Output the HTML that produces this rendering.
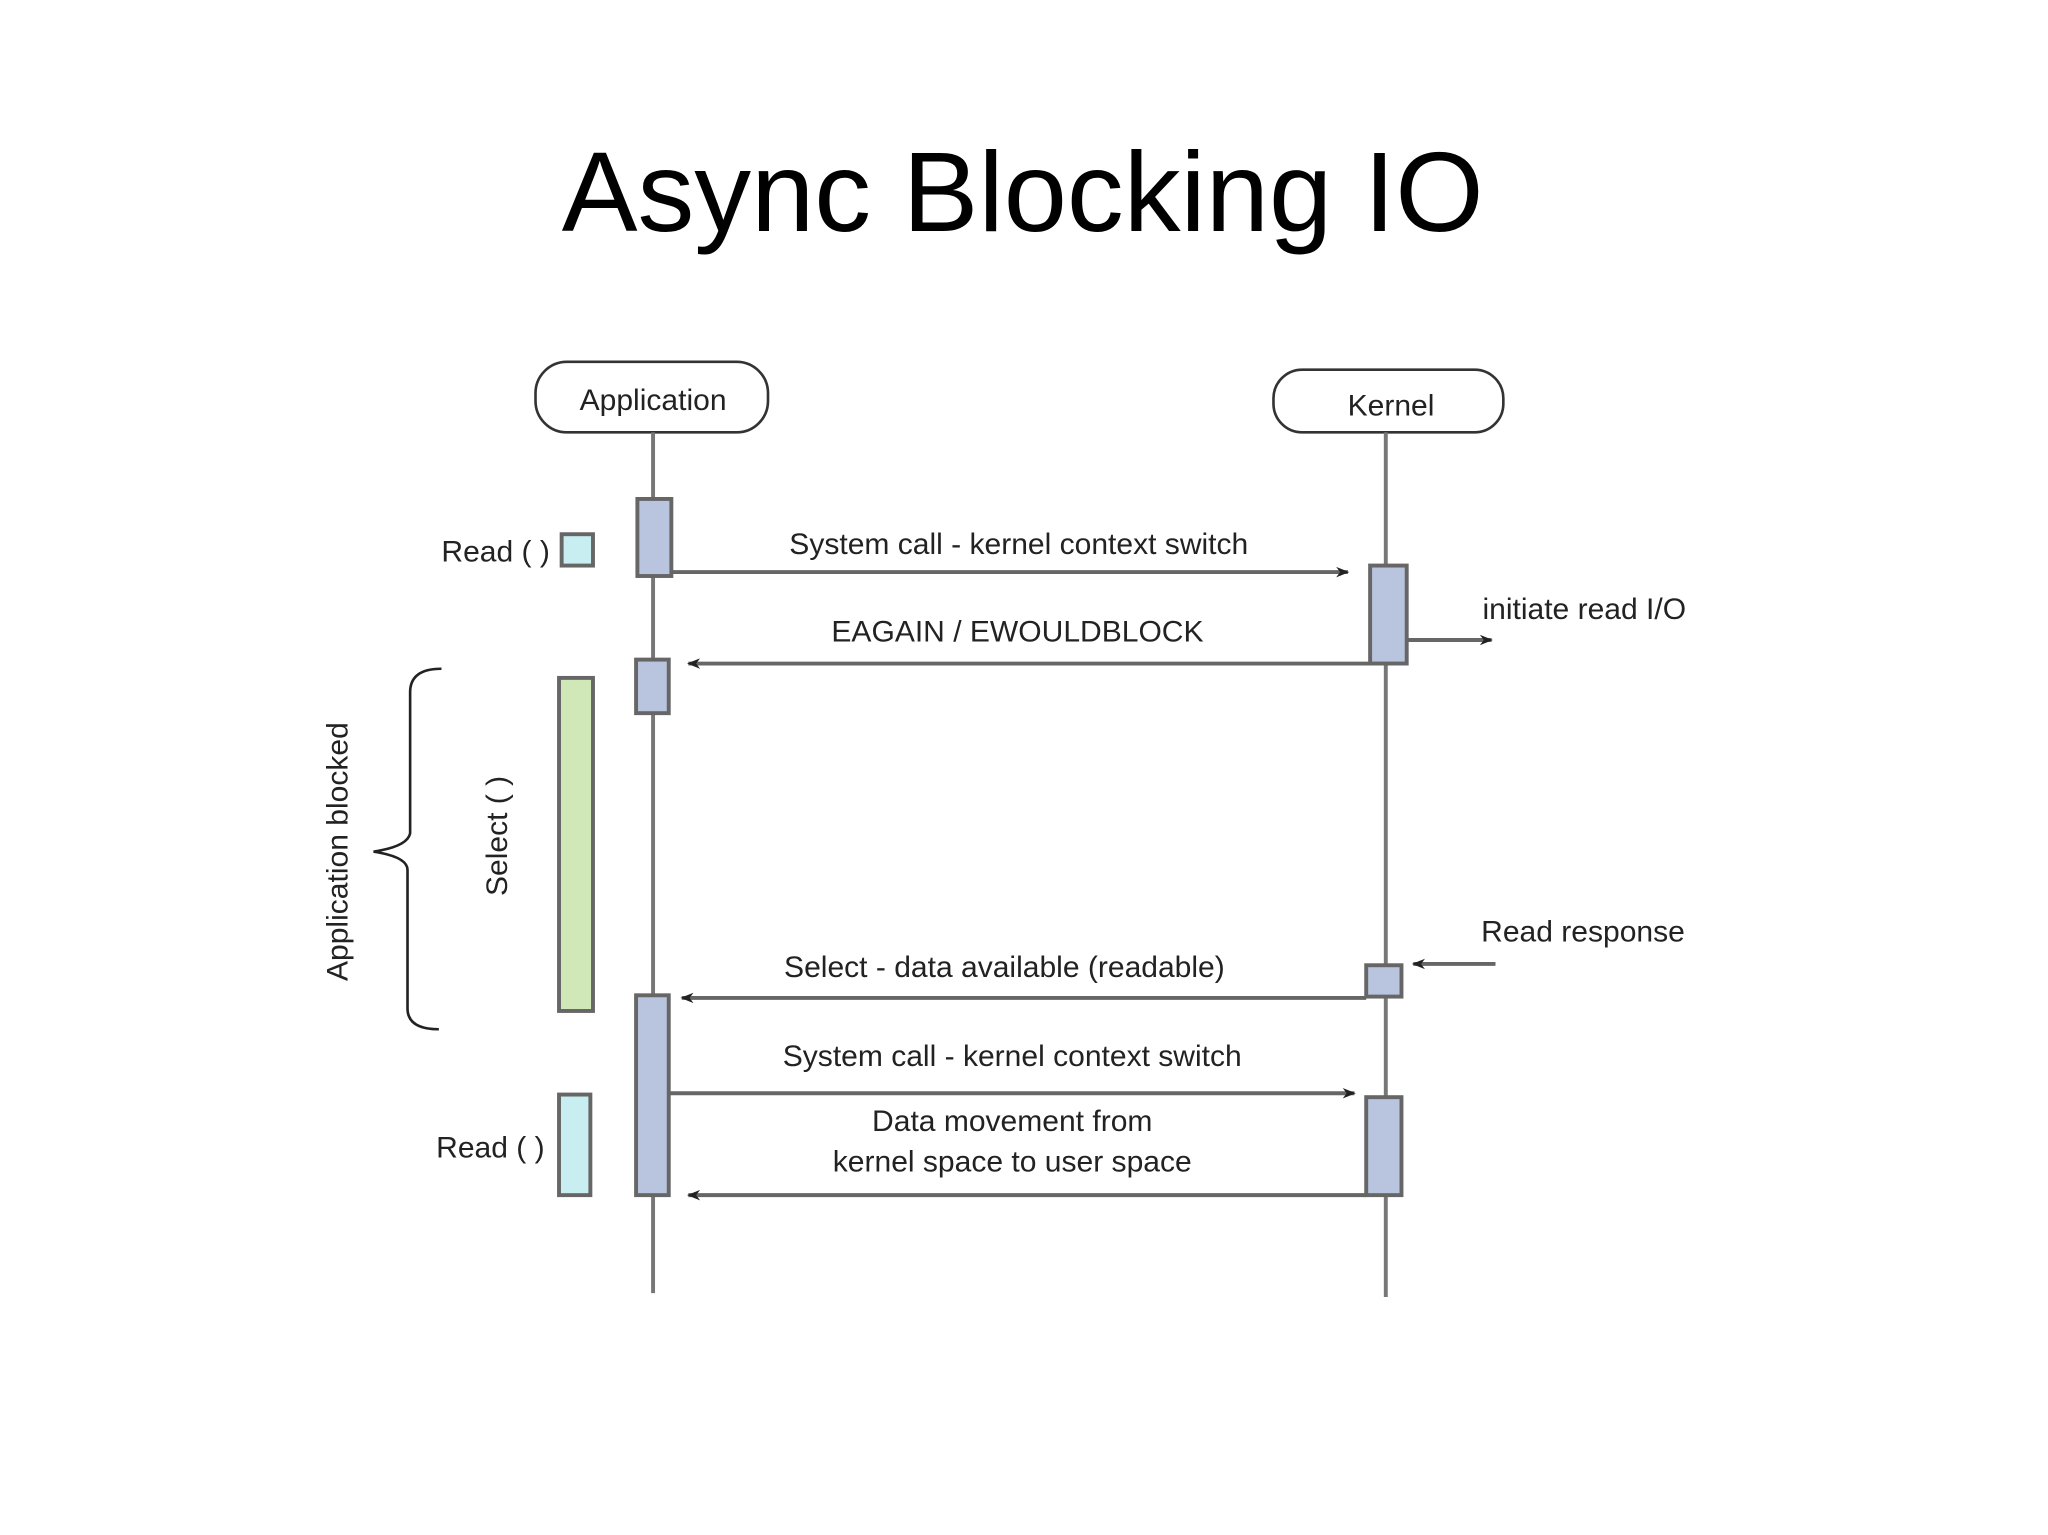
<!DOCTYPE html>
<html><head><style>html,body{margin:0;padding:0;background:#fff}svg{display:block}</style></head>
<body>
<svg width="2048" height="1535" viewBox="0 0 1568 1175.2" preserveAspectRatio="none" xmlns="http://www.w3.org/2000/svg" font-family="Liberation Sans, sans-serif">
<defs><marker id="a" markerWidth="10" markerHeight="8" refX="9" refY="4" orient="auto" markerUnits="userSpaceOnUse"><path d="M0,0 L10,4 L0,8 L3,4 z" fill="#222"/></marker></defs>
<text x="783" y="177" font-size="87" text-anchor="middle" fill="#000">Async Blocking IO</text>
<g fill="#fff" stroke="#333" stroke-width="2">
<rect x="410" y="277" width="178" height="54" rx="24"/>
<rect x="975" y="283" width="176" height="48" rx="22"/>
</g>
<g font-size="23" fill="#222">
<text x="500" y="314" text-anchor="middle">Application</text>
<text x="1065" y="318" text-anchor="middle">Kernel</text>
</g>
<g stroke="#777" stroke-width="3">
<line x1="500" y1="331" x2="500" y2="990"/>
<line x1="1061" y1="331" x2="1061" y2="993"/>
</g>
<g stroke="#666" stroke-width="3">
<line x1="514" y1="438" x2="1032" y2="438" marker-end="url(#a)"/>
<line x1="1049" y1="508" x2="527" y2="508" marker-end="url(#a)"/>
<line x1="1077" y1="490" x2="1142" y2="490" marker-end="url(#a)"/>
<line x1="1145" y1="738" x2="1082" y2="738" marker-end="url(#a)"/>
<line x1="1046" y1="764" x2="522" y2="764" marker-end="url(#a)"/>
<line x1="512" y1="837" x2="1037" y2="837" marker-end="url(#a)"/>
<line x1="1046" y1="915" x2="527" y2="915" marker-end="url(#a)"/>
</g>
<g fill="#b9c4de" stroke="#666" stroke-width="3">
<rect x="488" y="382" width="26" height="59"/>
<rect x="487" y="505" width="25" height="41"/>
<rect x="487" y="762" width="25" height="153"/>
<rect x="1049" y="433" width="28" height="75"/>
<rect x="1046" y="739" width="27" height="24"/>
<rect x="1046" y="840" width="27" height="75"/>
</g>
<g stroke="#666" stroke-width="3">
<rect x="430" y="409" width="24" height="24" fill="#c8eef2"/>
<rect x="428" y="519" width="26" height="255" fill="#d0e8b8"/>
<rect x="428" y="838" width="24" height="77" fill="#c8eef2"/>
</g>
<path d="M338,512 Q314,512 314,530 L314,638 Q312,648 286,652 Q312,656 312,666 L312,772 Q312,788 336,788" fill="none" stroke="#222" stroke-width="2"/>
<g font-size="23" fill="#222">
<text x="780" y="424" text-anchor="middle">System call - kernel context switch</text>
<text x="779" y="491" text-anchor="middle">EAGAIN / EWOULDBLOCK</text>
<text x="1135" y="474">initiate read I/O</text>
<text x="1134" y="721">Read response</text>
<text x="769" y="748" text-anchor="middle">Select - data available (readable)</text>
<text x="775" y="816" text-anchor="middle">System call - kernel context switch</text>
<text x="775" y="866" text-anchor="middle">Data movement from</text>
<text x="775" y="897" text-anchor="middle">kernel space to user space</text>
<text x="421" y="430" text-anchor="end">Read ( )</text>
<text x="417" y="886" text-anchor="end">Read ( )</text>
<text x="0" y="0" text-anchor="middle" transform="translate(388,640) rotate(-90)">Select ( )</text>
<text x="0" y="0" text-anchor="middle" transform="translate(266,652) rotate(-90)">Application blocked</text>
</g>
</svg>
</body></html>
